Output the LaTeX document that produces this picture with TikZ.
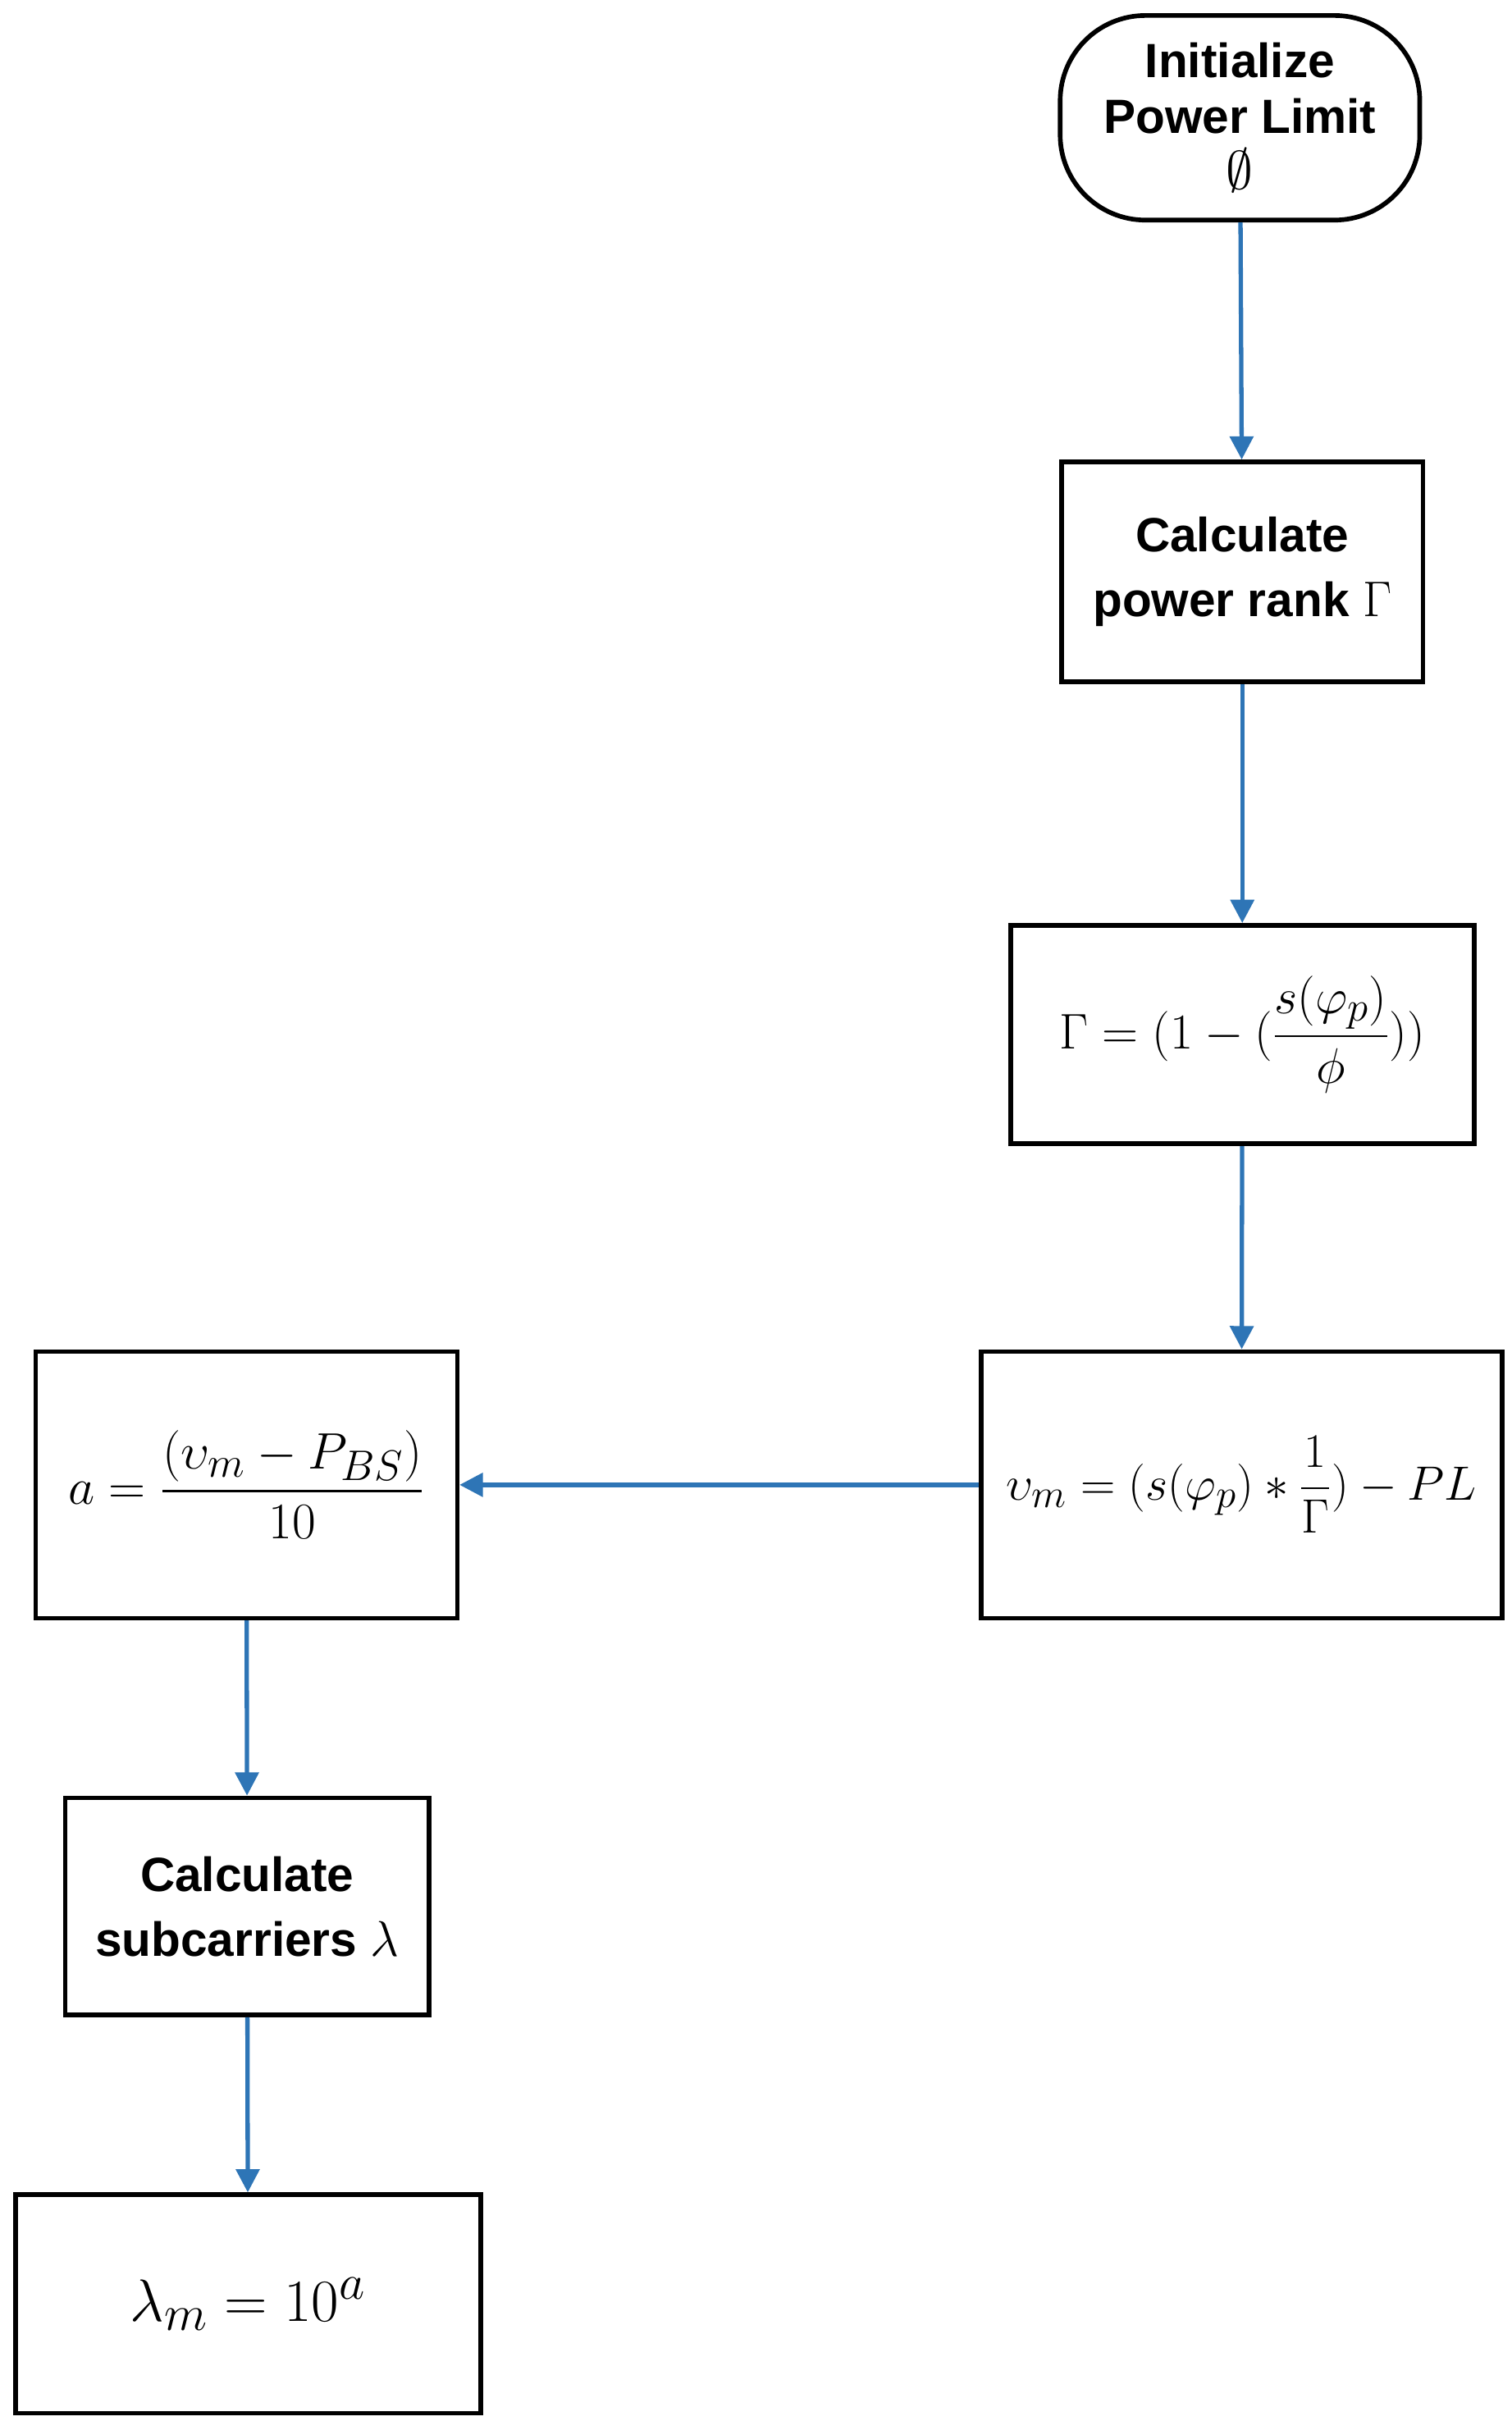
\documentclass[tikz,border=0pt]{standalone}
\usepackage{amsmath}
\usepackage{graphicx}
\usepackage{fontspec}
\setmainfont{Liberation Sans}
\usetikzlibrary{arrows.meta}
\definecolor{arr}{RGB}{46,117,182}
\begin{document}
\begin{tikzpicture}[x=1pt,y=-1pt,
  box/.style={draw,line width=3pt,inner sep=0pt,align=center,font=\fontsize{31}{42}\selectfont\bfseries},
  mbox/.style={draw,line width=3pt,inner sep=0pt,align=center,font=\fontsize{30}{36}\selectfont},
  conn/.style={arr,line width=2.8pt,-{Triangle[length=15pt,width=15pt]}}]
\useasboundingbox (0,0) rectangle (975,1562);
\node[box,rounded corners=55pt,minimum width=232pt,minimum height=132pt] (n1) at (800,76) {Initialize\\[-6pt]Power Limit\\[-6pt]\scalebox{1.4}{$\emptyset$}};
\node[box,minimum width=233pt,minimum height=142pt] (n2) at (801.5,369) {Calculate\\power rank \scalebox{1.3}{$\Gamma$}};
\node[mbox,minimum width=299pt,minimum height=141pt] (n3) at (801.5,667.5) {\scalebox{1.3}{$\Gamma=(1-(\dfrac{s(\varphi_p)}{\phi}))$}};
\node[mbox,minimum width=336pt,minimum height=172pt] (n4) at (801,958) {\scalebox{1.25}{$\upsilon_m=(s(\varphi_p)*\dfrac{1}{\Gamma})-PL$}};
\node[mbox,minimum width=272pt,minimum height=172pt] (n5) at (159,958) {\scalebox{1.33}{$a=\dfrac{(\upsilon_m-P_{BS})}{10}$}};
\node[box,minimum width=235pt,minimum height=140pt] (n6) at (159.5,1230) {Calculate\\subcarriers \scalebox{1.3}{$\lambda$}};
\node[mbox,minimum width=300pt,minimum height=141pt] (n7) at (160,1486.5) {\scalebox{1.55}{$\lambda_m=10^a$}};
\draw[conn] (n1) -- (n2);
\draw[conn] (n2) -- (n3);
\draw[conn] (n3) -- (n4);
\draw[conn] (n4) -- (n5);
\draw[conn] (n5) -- (n6);
\draw[conn] (n6) -- (n7);
\end{tikzpicture}
\end{document}
